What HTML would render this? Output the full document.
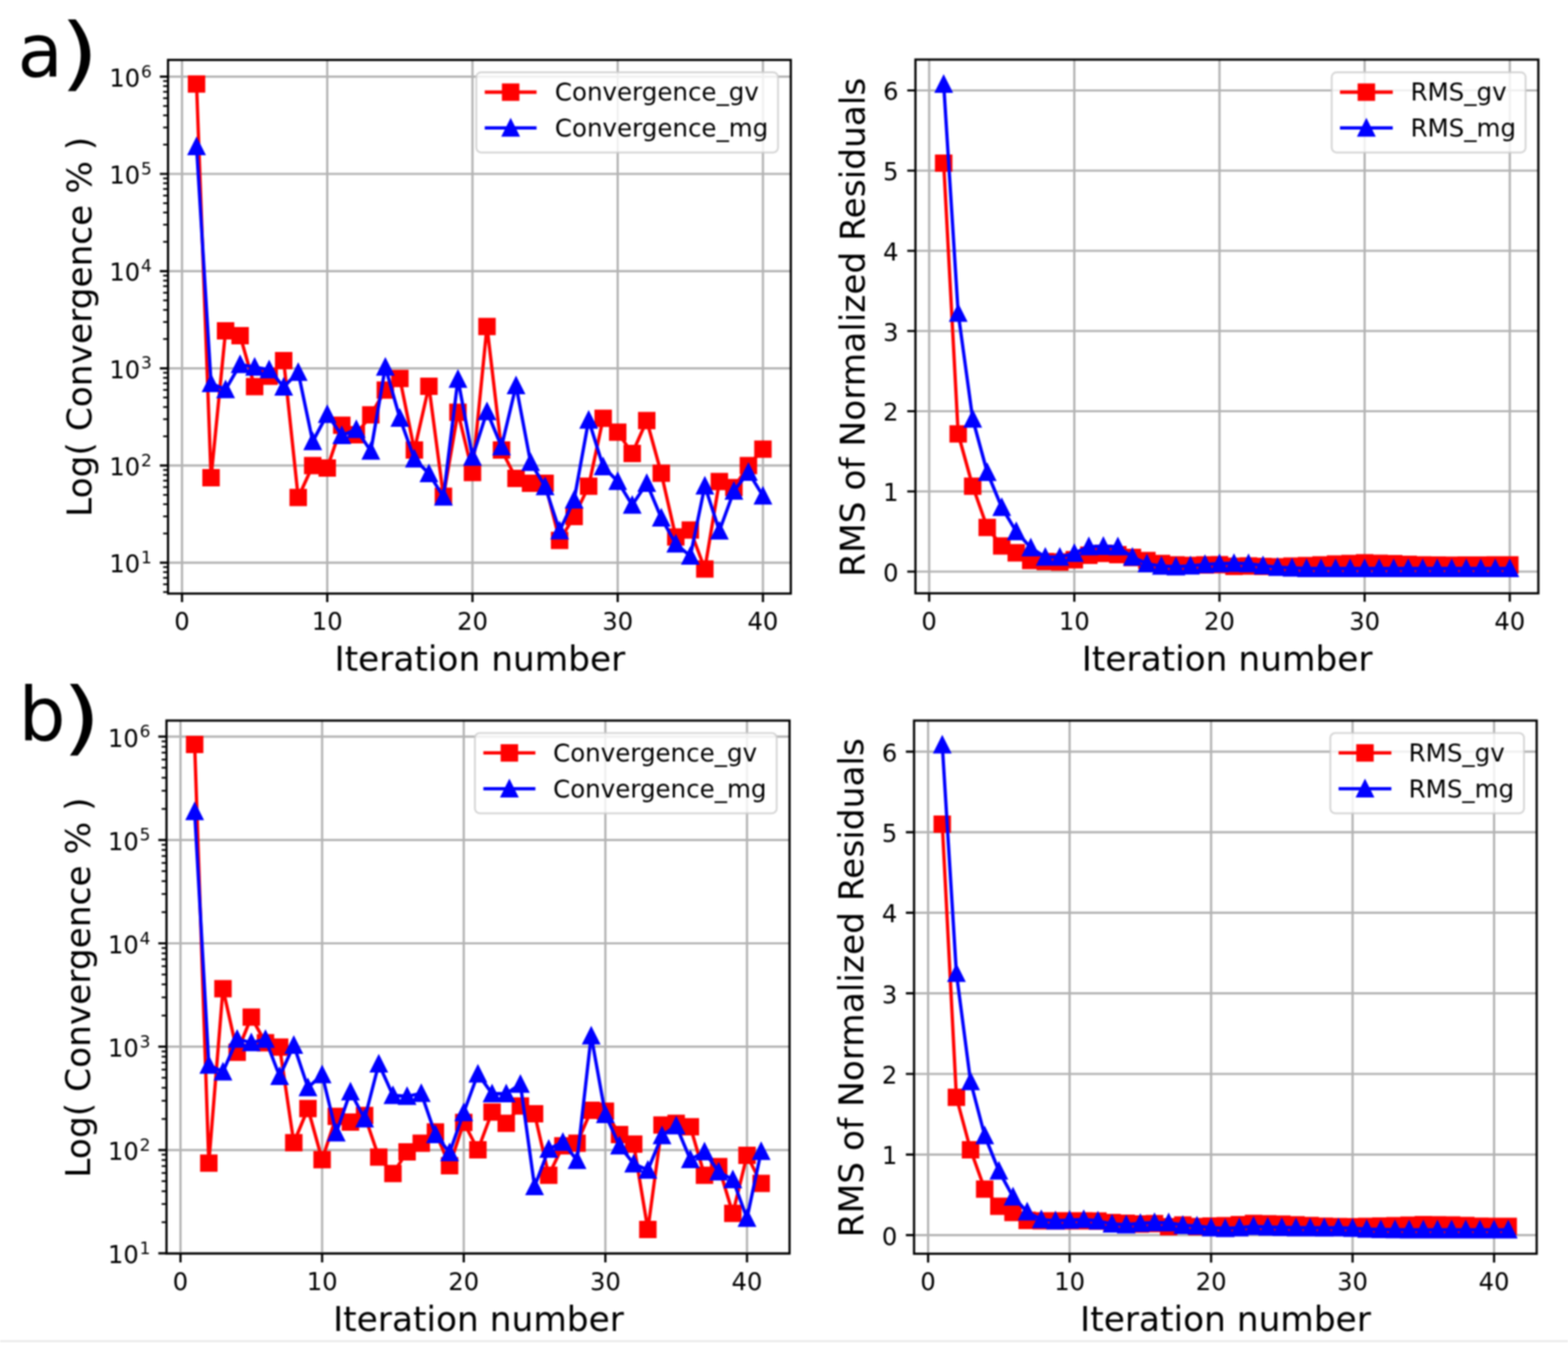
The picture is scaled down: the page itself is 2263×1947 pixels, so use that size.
<!DOCTYPE html>
<html lang="en">
<head>
<meta charset="utf-8">
<title>Convergence and RMS of normalized residuals</title>
<style>
html,body{margin:0;padding:0;background:#ffffff;}
body{width:2263px;height:1947px;overflow:hidden;}
svg{display:block;filter:blur(0.85px);}
</style>
</head>
<body>
<svg width="2263" height="1947" viewBox="0 0 2263 1947" font-family='"DejaVu Sans", "Liberation Sans", sans-serif' fill="#000000">
<defs>
<clipPath id="cA"><rect x="242.5" y="86.5" width="898.8" height="770.2"/></clipPath>
<clipPath id="cB"><rect x="240.3" y="1040" width="899.2" height="769.2"/></clipPath>
<clipPath id="cC"><rect x="1321.2" y="86" width="899" height="770.3"/></clipPath>
<clipPath id="cD"><rect x="1319.2" y="1040" width="898.6" height="769.5"/></clipPath>
</defs>
<rect x="0" y="0" width="2263" height="1947" fill="#ffffff"/>
<path d="M262.7 86.5V856.7M472.3 86.5V856.7M681.9 86.5V856.7M891.5 86.5V856.7M1101.1 86.5V856.7M242.5 110.7H1141.3M242.5 251H1141.3M242.5 391.3H1141.3M242.5 531.6H1141.3M242.5 671.9H1141.3M242.5 812.2H1141.3" stroke="#b3b3b3" stroke-width="3.2" fill="none"/>
<g clip-path="url(#cA)">
<polyline points="283.66,121.25 304.62,689.5 325.58,477.5 346.54,484.5 367.5,558 388.46,543 409.42,520.5 430.38,718 451.34,672 472.3,675.5 493.26,613.75 514.22,627.5 535.18,598.75 556.14,563 577.1,546.25 598.06,649.5 619.02,557.5 639.98,716.25 660.94,595 681.9,682 702.86,471.25 723.82,649.5 744.78,690.5 765.74,697.5 786.7,697.5 807.66,780 828.62,745.5 849.58,701.75 870.54,603.75 891.5,623.75 912.46,654.5 933.42,607 954.38,683 975.34,775 996.3,765 1017.26,821.25 1038.22,695 1059.18,703.75 1080.14,672 1101.1,648.25" fill="none" stroke="#ff0000" stroke-width="4.8" stroke-linejoin="round" stroke-linecap="square"/>
<path d="M271.06 108.65h25.2v25.2h-25.2zM292.02 676.9h25.2v25.2h-25.2zM312.98 464.9h25.2v25.2h-25.2zM333.94 471.9h25.2v25.2h-25.2zM354.9 545.4h25.2v25.2h-25.2zM375.86 530.4h25.2v25.2h-25.2zM396.82 507.9h25.2v25.2h-25.2zM417.78 705.4h25.2v25.2h-25.2zM438.74 659.4h25.2v25.2h-25.2zM459.7 662.9h25.2v25.2h-25.2zM480.66 601.15h25.2v25.2h-25.2zM501.62 614.9h25.2v25.2h-25.2zM522.58 586.15h25.2v25.2h-25.2zM543.54 550.4h25.2v25.2h-25.2zM564.5 533.65h25.2v25.2h-25.2zM585.46 636.9h25.2v25.2h-25.2zM606.42 544.9h25.2v25.2h-25.2zM627.38 703.65h25.2v25.2h-25.2zM648.34 582.4h25.2v25.2h-25.2zM669.3 669.4h25.2v25.2h-25.2zM690.26 458.65h25.2v25.2h-25.2zM711.22 636.9h25.2v25.2h-25.2zM732.18 677.9h25.2v25.2h-25.2zM753.14 684.9h25.2v25.2h-25.2zM774.1 684.9h25.2v25.2h-25.2zM795.06 767.4h25.2v25.2h-25.2zM816.02 732.9h25.2v25.2h-25.2zM836.98 689.15h25.2v25.2h-25.2zM857.94 591.15h25.2v25.2h-25.2zM878.9 611.15h25.2v25.2h-25.2zM899.86 641.9h25.2v25.2h-25.2zM920.82 594.4h25.2v25.2h-25.2zM941.78 670.4h25.2v25.2h-25.2zM962.74 762.4h25.2v25.2h-25.2zM983.7 752.4h25.2v25.2h-25.2zM1004.66 808.65h25.2v25.2h-25.2zM1025.62 682.4h25.2v25.2h-25.2zM1046.58 691.15h25.2v25.2h-25.2zM1067.54 659.4h25.2v25.2h-25.2zM1088.5 635.65h25.2v25.2h-25.2z" fill="#ff0000"/>
<polyline points="283.66,211.5 304.62,553.5 325.58,562.25 346.54,526 367.5,529.75 388.46,533.5 409.42,558.5 430.38,537.25 451.34,637.25 472.3,598 493.26,628.5 514.22,619.75 535.18,651 556.14,529.75 577.1,603.5 598.06,662.25 619.02,683.5 639.98,717.25 660.94,547.25 681.9,659.75 702.86,594 723.82,644.75 744.78,556.5 765.74,667.25 786.7,702.25 807.66,766 828.62,721.5 849.58,606.25 870.54,673.5 891.5,694.75 912.46,729 933.42,697.5 954.38,747.5 975.34,785 996.3,802.5 1017.26,701.25 1038.22,766.25 1059.18,708.75 1080.14,681.5 1101.1,715.75" fill="none" stroke="#0000ff" stroke-width="4.8" stroke-linejoin="round" stroke-linecap="square"/>
<path d="M283.66 196.9l13.6 27.2h-27.2zM304.62 538.9l13.6 27.2h-27.2zM325.58 547.65l13.6 27.2h-27.2zM346.54 511.4l13.6 27.2h-27.2zM367.5 515.15l13.6 27.2h-27.2zM388.46 518.9l13.6 27.2h-27.2zM409.42 543.9l13.6 27.2h-27.2zM430.38 522.65l13.6 27.2h-27.2zM451.34 622.65l13.6 27.2h-27.2zM472.3 583.4l13.6 27.2h-27.2zM493.26 613.9l13.6 27.2h-27.2zM514.22 605.15l13.6 27.2h-27.2zM535.18 636.4l13.6 27.2h-27.2zM556.14 515.15l13.6 27.2h-27.2zM577.1 588.9l13.6 27.2h-27.2zM598.06 647.65l13.6 27.2h-27.2zM619.02 668.9l13.6 27.2h-27.2zM639.98 702.65l13.6 27.2h-27.2zM660.94 532.65l13.6 27.2h-27.2zM681.9 645.15l13.6 27.2h-27.2zM702.86 579.4l13.6 27.2h-27.2zM723.82 630.15l13.6 27.2h-27.2zM744.78 541.9l13.6 27.2h-27.2zM765.74 652.65l13.6 27.2h-27.2zM786.7 687.65l13.6 27.2h-27.2zM807.66 751.4l13.6 27.2h-27.2zM828.62 706.9l13.6 27.2h-27.2zM849.58 591.65l13.6 27.2h-27.2zM870.54 658.9l13.6 27.2h-27.2zM891.5 680.15l13.6 27.2h-27.2zM912.46 714.4l13.6 27.2h-27.2zM933.42 682.9l13.6 27.2h-27.2zM954.38 732.9l13.6 27.2h-27.2zM975.34 770.4l13.6 27.2h-27.2zM996.3 787.9l13.6 27.2h-27.2zM1017.26 686.65l13.6 27.2h-27.2zM1038.22 751.65l13.6 27.2h-27.2zM1059.18 694.15l13.6 27.2h-27.2zM1080.14 666.9l13.6 27.2h-27.2zM1101.1 701.15l13.6 27.2h-27.2z" fill="#0000ff"/>
</g>
<path d="M262.7 856.7v12.3M472.3 856.7v12.3M681.9 856.7v12.3M891.5 856.7v12.3M1101.1 856.7v12.3M242.5 110.7h-11.8M242.5 251h-11.8M242.5 391.3h-11.8M242.5 531.6h-11.8M242.5 671.9h-11.8M242.5 812.2h-11.8" stroke="#000000" stroke-width="3.2" fill="none"/>
<path d="M242.5 854.43h-7M242.5 843.33h-7M242.5 833.93h-7M242.5 825.8h-7M242.5 818.62h-7M242.5 769.97h-7M242.5 745.26h-7M242.5 727.73h-7M242.5 714.13h-7M242.5 703.03h-7M242.5 693.63h-7M242.5 685.5h-7M242.5 678.32h-7M242.5 629.67h-7M242.5 604.96h-7M242.5 587.43h-7M242.5 573.83h-7M242.5 562.73h-7M242.5 553.33h-7M242.5 545.2h-7M242.5 538.02h-7M242.5 489.37h-7M242.5 464.66h-7M242.5 447.13h-7M242.5 433.53h-7M242.5 422.43h-7M242.5 413.03h-7M242.5 404.9h-7M242.5 397.72h-7M242.5 349.07h-7M242.5 324.36h-7M242.5 306.83h-7M242.5 293.23h-7M242.5 282.13h-7M242.5 272.73h-7M242.5 264.6h-7M242.5 257.42h-7M242.5 208.77h-7M242.5 184.06h-7M242.5 166.53h-7M242.5 152.93h-7M242.5 141.83h-7M242.5 132.43h-7M242.5 124.3h-7M242.5 117.12h-7" stroke="#000000" stroke-width="2.5" fill="none"/>
<rect x="242.5" y="86.5" width="898.8" height="770.2" fill="none" stroke="#000000" stroke-width="3.2"/>
<text x="262.7" y="908.6" font-size="35" text-anchor="middle">0</text>
<text x="472.3" y="908.6" font-size="35" text-anchor="middle">10</text>
<text x="681.9" y="908.6" font-size="35" text-anchor="middle">20</text>
<text x="891.5" y="908.6" font-size="35" text-anchor="middle">30</text>
<text x="1101.1" y="908.6" font-size="35" text-anchor="middle">40</text>
<text x="219" y="124.8" font-size="35" text-anchor="end">10<tspan font-size="24.5" dx="1.2" dy="-13.3">6</tspan></text>
<text x="219" y="265.1" font-size="35" text-anchor="end">10<tspan font-size="24.5" dx="1.2" dy="-13.3">5</tspan></text>
<text x="219" y="405.4" font-size="35" text-anchor="end">10<tspan font-size="24.5" dx="1.2" dy="-13.3">4</tspan></text>
<text x="219" y="545.7" font-size="35" text-anchor="end">10<tspan font-size="24.5" dx="1.2" dy="-13.3">3</tspan></text>
<text x="219" y="686" font-size="35" text-anchor="end">10<tspan font-size="24.5" dx="1.2" dy="-13.3">2</tspan></text>
<text x="219" y="826.3" font-size="35" text-anchor="end">10<tspan font-size="24.5" dx="1.2" dy="-13.3">1</tspan></text>
<text x="692.6" y="968" font-size="49.6" text-anchor="middle">Iteration number</text>
<text transform="translate(131.5 471.7) rotate(-90)" font-size="49.6" text-anchor="middle">Log( Convergence % )</text>
<rect x="687.4" y="104.3" width="435.5" height="115.8" rx="7" ry="7" fill="#ffffff" fill-opacity="0.8" stroke="#cccccc" stroke-opacity="0.8" stroke-width="2.7"/>
<line x1="702" y1="133" x2="772" y2="133" stroke="#ff0000" stroke-width="4.8" stroke-linecap="square"/>
<rect x="724.4" y="120.4" width="25.2" height="25.2" fill="#ff0000"/>
<text x="800.8" y="145" font-size="35.4">Convergence_gv</text>
<line x1="702" y1="184.7" x2="772" y2="184.7" stroke="#0000ff" stroke-width="4.8" stroke-linecap="square"/>
<path d="M737 170.1l13.6 27.2h-27.2z" fill="#0000ff"/>
<text x="800.8" y="197" font-size="35.4">Convergence_mg</text>
<path d="M260.5 1040V1809.2M464.9 1040V1809.2M669.3 1040V1809.2M873.7 1040V1809.2M1078.1 1040V1809.2M240.3 1063.2H1139.5M240.3 1212.35H1139.5M240.3 1361.5H1139.5M240.3 1510.65H1139.5M240.3 1659.8H1139.5M240.3 1808.95H1139.5" stroke="#b3b3b3" stroke-width="3.2" fill="none"/>
<g clip-path="url(#cB)">
<polyline points="280.94,1074.5 301.38,1678.75 321.82,1427 342.26,1518.75 362.7,1468 383.14,1505 403.58,1511.25 424.02,1649.25 444.46,1600 464.9,1673.75 485.34,1611.25 505.78,1619.5 526.22,1610 546.66,1670 567.1,1693.75 587.54,1662.5 607.98,1650 628.42,1633.75 648.86,1682.5 669.3,1620 689.74,1659.5 710.18,1605 730.62,1621.25 751.06,1596.25 771.5,1607.5 791.94,1696.25 812.38,1653.75 832.82,1650 853.26,1602.5 873.7,1603.75 894.14,1637.5 914.58,1651.25 935.02,1774.5 955.46,1623.75 975.9,1621.25 996.34,1626.25 1016.78,1696.25 1037.22,1683.75 1057.66,1751.25 1078.1,1667.5 1098.54,1708" fill="none" stroke="#ff0000" stroke-width="4.8" stroke-linejoin="round" stroke-linecap="square"/>
<path d="M268.34 1061.9h25.2v25.2h-25.2zM288.78 1666.15h25.2v25.2h-25.2zM309.22 1414.4h25.2v25.2h-25.2zM329.66 1506.15h25.2v25.2h-25.2zM350.1 1455.4h25.2v25.2h-25.2zM370.54 1492.4h25.2v25.2h-25.2zM390.98 1498.65h25.2v25.2h-25.2zM411.42 1636.65h25.2v25.2h-25.2zM431.86 1587.4h25.2v25.2h-25.2zM452.3 1661.15h25.2v25.2h-25.2zM472.74 1598.65h25.2v25.2h-25.2zM493.18 1606.9h25.2v25.2h-25.2zM513.62 1597.4h25.2v25.2h-25.2zM534.06 1657.4h25.2v25.2h-25.2zM554.5 1681.15h25.2v25.2h-25.2zM574.94 1649.9h25.2v25.2h-25.2zM595.38 1637.4h25.2v25.2h-25.2zM615.82 1621.15h25.2v25.2h-25.2zM636.26 1669.9h25.2v25.2h-25.2zM656.7 1607.4h25.2v25.2h-25.2zM677.14 1646.9h25.2v25.2h-25.2zM697.58 1592.4h25.2v25.2h-25.2zM718.02 1608.65h25.2v25.2h-25.2zM738.46 1583.65h25.2v25.2h-25.2zM758.9 1594.9h25.2v25.2h-25.2zM779.34 1683.65h25.2v25.2h-25.2zM799.78 1641.15h25.2v25.2h-25.2zM820.22 1637.4h25.2v25.2h-25.2zM840.66 1589.9h25.2v25.2h-25.2zM861.1 1591.15h25.2v25.2h-25.2zM881.54 1624.9h25.2v25.2h-25.2zM901.98 1638.65h25.2v25.2h-25.2zM922.42 1761.9h25.2v25.2h-25.2zM942.86 1611.15h25.2v25.2h-25.2zM963.3 1608.65h25.2v25.2h-25.2zM983.74 1613.65h25.2v25.2h-25.2zM1004.18 1683.65h25.2v25.2h-25.2zM1024.62 1671.15h25.2v25.2h-25.2zM1045.06 1738.65h25.2v25.2h-25.2zM1065.5 1654.9h25.2v25.2h-25.2zM1085.94 1695.4h25.2v25.2h-25.2z" fill="#ff0000"/>
<polyline points="280.94,1171.25 301.38,1537.25 321.82,1547 342.26,1499.75 362.7,1504.75 383.14,1500 403.58,1553.5 424.02,1508.5 444.46,1569.75 464.9,1551 485.34,1635 505.78,1575.75 526.22,1614.75 546.66,1535.5 567.1,1581 587.54,1582.25 607.98,1578 628.42,1637.5 648.86,1663.5 669.3,1605.75 689.74,1550 710.18,1578.5 730.62,1578.5 751.06,1564.75 771.5,1712.5 791.94,1658.5 812.38,1648.5 832.82,1674.75 853.26,1495 873.7,1608.5 894.14,1653.75 914.58,1679.75 935.02,1688.75 955.46,1639 975.9,1624.75 996.34,1673.5 1016.78,1662.25 1037.22,1691.25 1057.66,1702.5 1078.1,1758.25 1098.54,1661.75" fill="none" stroke="#0000ff" stroke-width="4.8" stroke-linejoin="round" stroke-linecap="square"/>
<path d="M280.94 1156.65l13.6 27.2h-27.2zM301.38 1522.65l13.6 27.2h-27.2zM321.82 1532.4l13.6 27.2h-27.2zM342.26 1485.15l13.6 27.2h-27.2zM362.7 1490.15l13.6 27.2h-27.2zM383.14 1485.4l13.6 27.2h-27.2zM403.58 1538.9l13.6 27.2h-27.2zM424.02 1493.9l13.6 27.2h-27.2zM444.46 1555.15l13.6 27.2h-27.2zM464.9 1536.4l13.6 27.2h-27.2zM485.34 1620.4l13.6 27.2h-27.2zM505.78 1561.15l13.6 27.2h-27.2zM526.22 1600.15l13.6 27.2h-27.2zM546.66 1520.9l13.6 27.2h-27.2zM567.1 1566.4l13.6 27.2h-27.2zM587.54 1567.65l13.6 27.2h-27.2zM607.98 1563.4l13.6 27.2h-27.2zM628.42 1622.9l13.6 27.2h-27.2zM648.86 1648.9l13.6 27.2h-27.2zM669.3 1591.15l13.6 27.2h-27.2zM689.74 1535.4l13.6 27.2h-27.2zM710.18 1563.9l13.6 27.2h-27.2zM730.62 1563.9l13.6 27.2h-27.2zM751.06 1550.15l13.6 27.2h-27.2zM771.5 1697.9l13.6 27.2h-27.2zM791.94 1643.9l13.6 27.2h-27.2zM812.38 1633.9l13.6 27.2h-27.2zM832.82 1660.15l13.6 27.2h-27.2zM853.26 1480.4l13.6 27.2h-27.2zM873.7 1593.9l13.6 27.2h-27.2zM894.14 1639.15l13.6 27.2h-27.2zM914.58 1665.15l13.6 27.2h-27.2zM935.02 1674.15l13.6 27.2h-27.2zM955.46 1624.4l13.6 27.2h-27.2zM975.9 1610.15l13.6 27.2h-27.2zM996.34 1658.9l13.6 27.2h-27.2zM1016.78 1647.65l13.6 27.2h-27.2zM1037.22 1676.65l13.6 27.2h-27.2zM1057.66 1687.9l13.6 27.2h-27.2zM1078.1 1743.65l13.6 27.2h-27.2zM1098.54 1647.15l13.6 27.2h-27.2z" fill="#0000ff"/>
</g>
<path d="M260.5 1809.2v12.8M464.9 1809.2v12.8M669.3 1809.2v12.8M873.7 1809.2v12.8M1078.1 1809.2v12.8M240.3 1063.2h-11.8M240.3 1212.35h-11.8M240.3 1361.5h-11.8M240.3 1510.65h-11.8M240.3 1659.8h-11.8M240.3 1808.95h-11.8" stroke="#000000" stroke-width="3.2" fill="none"/>
<path d="M240.3 1764.05h-7M240.3 1737.79h-7M240.3 1719.15h-7M240.3 1704.7h-7M240.3 1692.89h-7M240.3 1682.9h-7M240.3 1674.25h-7M240.3 1666.62h-7M240.3 1614.9h-7M240.3 1588.64h-7M240.3 1570h-7M240.3 1555.55h-7M240.3 1543.74h-7M240.3 1533.75h-7M240.3 1525.1h-7M240.3 1517.47h-7M240.3 1465.75h-7M240.3 1439.49h-7M240.3 1420.85h-7M240.3 1406.4h-7M240.3 1394.59h-7M240.3 1384.6h-7M240.3 1375.95h-7M240.3 1368.32h-7M240.3 1316.6h-7M240.3 1290.34h-7M240.3 1271.7h-7M240.3 1257.25h-7M240.3 1245.44h-7M240.3 1235.45h-7M240.3 1226.8h-7M240.3 1219.17h-7M240.3 1167.45h-7M240.3 1141.19h-7M240.3 1122.55h-7M240.3 1108.1h-7M240.3 1096.29h-7M240.3 1086.3h-7M240.3 1077.65h-7M240.3 1070.02h-7" stroke="#000000" stroke-width="2.5" fill="none"/>
<rect x="240.3" y="1040" width="899.2" height="769.2" fill="none" stroke="#000000" stroke-width="3.2"/>
<text x="260.5" y="1861.6" font-size="35" text-anchor="middle">0</text>
<text x="464.9" y="1861.6" font-size="35" text-anchor="middle">10</text>
<text x="669.3" y="1861.6" font-size="35" text-anchor="middle">20</text>
<text x="873.7" y="1861.6" font-size="35" text-anchor="middle">30</text>
<text x="1078.1" y="1861.6" font-size="35" text-anchor="middle">40</text>
<text x="217" y="1077.5" font-size="35" text-anchor="end">10<tspan font-size="24.5" dx="1.2" dy="-13.3">6</tspan></text>
<text x="217" y="1226.65" font-size="35" text-anchor="end">10<tspan font-size="24.5" dx="1.2" dy="-13.3">5</tspan></text>
<text x="217" y="1375.8" font-size="35" text-anchor="end">10<tspan font-size="24.5" dx="1.2" dy="-13.3">4</tspan></text>
<text x="217" y="1524.95" font-size="35" text-anchor="end">10<tspan font-size="24.5" dx="1.2" dy="-13.3">3</tspan></text>
<text x="217" y="1674.1" font-size="35" text-anchor="end">10<tspan font-size="24.5" dx="1.2" dy="-13.3">2</tspan></text>
<text x="217" y="1823.25" font-size="35" text-anchor="end">10<tspan font-size="24.5" dx="1.2" dy="-13.3">1</tspan></text>
<text x="690.5" y="1920.5" font-size="49.6" text-anchor="middle">Iteration number</text>
<text transform="translate(129.5 1425.3) rotate(-90)" font-size="49.6" text-anchor="middle">Log( Convergence % )</text>
<rect x="685.4" y="1058" width="435.6" height="115.8" rx="7" ry="7" fill="#ffffff" fill-opacity="0.8" stroke="#cccccc" stroke-opacity="0.8" stroke-width="2.7"/>
<line x1="700" y1="1086.7" x2="770.3" y2="1086.7" stroke="#ff0000" stroke-width="4.8" stroke-linecap="square"/>
<rect x="722.55" y="1074.1" width="25.2" height="25.2" fill="#ff0000"/>
<text x="798.2" y="1098.7" font-size="35.4">Convergence_gv</text>
<line x1="700" y1="1138.4" x2="770.3" y2="1138.4" stroke="#0000ff" stroke-width="4.8" stroke-linecap="square"/>
<path d="M735.15 1123.8l13.6 27.2h-27.2z" fill="#0000ff"/>
<text x="798.2" y="1150.7" font-size="35.4">Convergence_mg</text>
<path d="M1341 86V856.3M1550.5 86V856.3M1760 86V856.3M1969.5 86V856.3M2179 86V856.3M1321.2 825H2220.2M1321.2 709.25H2220.2M1321.2 593.5H2220.2M1321.2 477.75H2220.2M1321.2 362H2220.2M1321.2 246.25H2220.2M1321.2 130.5H2220.2" stroke="#b3b3b3" stroke-width="3.2" fill="none"/>
<g clip-path="url(#cC)">
<polyline points="1361.95,235.5 1382.9,626.25 1403.85,701.75 1424.8,761.25 1445.75,788 1466.7,797.8 1487.65,808.8 1508.6,810.5 1529.55,811.2 1550.5,807.8 1571.45,801.3 1592.4,798.7 1613.35,800.5 1634.3,804.6 1655.25,809 1676.2,813.3 1697.15,815.4 1718.1,816 1739.05,815.4 1760,815 1780.95,817.3 1801.9,816.9 1822.85,817.5 1843.8,818 1864.75,817.2 1885.7,816.4 1906.65,815.3 1927.6,814.2 1948.55,813.3 1969.5,812.4 1990.45,813 2011.4,813.6 2032.35,814.5 2053.3,815.3 2074.25,815.6 2095.2,815.8 2116.15,815.6 2137.1,815.5 2158.05,815.4 2179,815.3" fill="none" stroke="#ff0000" stroke-width="4.8" stroke-linejoin="round" stroke-linecap="square"/>
<path d="M1349.35 222.9h25.2v25.2h-25.2zM1370.3 613.65h25.2v25.2h-25.2zM1391.25 689.15h25.2v25.2h-25.2zM1412.2 748.65h25.2v25.2h-25.2zM1433.15 775.4h25.2v25.2h-25.2zM1454.1 785.2h25.2v25.2h-25.2zM1475.05 796.2h25.2v25.2h-25.2zM1496 797.9h25.2v25.2h-25.2zM1516.95 798.6h25.2v25.2h-25.2zM1537.9 795.2h25.2v25.2h-25.2zM1558.85 788.7h25.2v25.2h-25.2zM1579.8 786.1h25.2v25.2h-25.2zM1600.75 787.9h25.2v25.2h-25.2zM1621.7 792h25.2v25.2h-25.2zM1642.65 796.4h25.2v25.2h-25.2zM1663.6 800.7h25.2v25.2h-25.2zM1684.55 802.8h25.2v25.2h-25.2zM1705.5 803.4h25.2v25.2h-25.2zM1726.45 802.8h25.2v25.2h-25.2zM1747.4 802.4h25.2v25.2h-25.2zM1768.35 804.7h25.2v25.2h-25.2zM1789.3 804.3h25.2v25.2h-25.2zM1810.25 804.9h25.2v25.2h-25.2zM1831.2 805.4h25.2v25.2h-25.2zM1852.15 804.6h25.2v25.2h-25.2zM1873.1 803.8h25.2v25.2h-25.2zM1894.05 802.7h25.2v25.2h-25.2zM1915 801.6h25.2v25.2h-25.2zM1935.95 800.7h25.2v25.2h-25.2zM1956.9 799.8h25.2v25.2h-25.2zM1977.85 800.4h25.2v25.2h-25.2zM1998.8 801h25.2v25.2h-25.2zM2019.75 801.9h25.2v25.2h-25.2zM2040.7 802.7h25.2v25.2h-25.2zM2061.65 803h25.2v25.2h-25.2zM2082.6 803.2h25.2v25.2h-25.2zM2103.55 803h25.2v25.2h-25.2zM2124.5 802.9h25.2v25.2h-25.2zM2145.45 802.8h25.2v25.2h-25.2zM2166.4 802.7h25.2v25.2h-25.2z" fill="#ff0000"/>
<polyline points="1361.95,121.5 1382.9,452 1403.85,604.75 1424.8,681.75 1445.75,732.25 1466.7,767.2 1487.65,790.5 1508.6,804 1529.55,804 1550.5,798.5 1571.45,788.8 1592.4,788.3 1613.35,789 1634.3,804 1655.25,813.5 1676.2,817 1697.15,817.8 1718.1,816.6 1739.05,814.7 1760,813.5 1780.95,813 1801.9,813.4 1822.85,816.3 1843.8,818.6 1864.75,819.7 1885.7,820.3 1906.65,820.5 1927.6,820.5 1948.55,820.5 1969.5,820.5 1990.45,820.5 2011.4,820.5 2032.35,820.5 2053.3,820.5 2074.25,820.5 2095.2,820.5 2116.15,820.5 2137.1,820.5 2158.05,820.5 2179,820.5" fill="none" stroke="#0000ff" stroke-width="4.8" stroke-linejoin="round" stroke-linecap="square"/>
<path d="M1361.95 106.9l13.6 27.2h-27.2zM1382.9 437.4l13.6 27.2h-27.2zM1403.85 590.15l13.6 27.2h-27.2zM1424.8 667.15l13.6 27.2h-27.2zM1445.75 717.65l13.6 27.2h-27.2zM1466.7 752.6l13.6 27.2h-27.2zM1487.65 775.9l13.6 27.2h-27.2zM1508.6 789.4l13.6 27.2h-27.2zM1529.55 789.4l13.6 27.2h-27.2zM1550.5 783.9l13.6 27.2h-27.2zM1571.45 774.2l13.6 27.2h-27.2zM1592.4 773.7l13.6 27.2h-27.2zM1613.35 774.4l13.6 27.2h-27.2zM1634.3 789.4l13.6 27.2h-27.2zM1655.25 798.9l13.6 27.2h-27.2zM1676.2 802.4l13.6 27.2h-27.2zM1697.15 803.2l13.6 27.2h-27.2zM1718.1 802l13.6 27.2h-27.2zM1739.05 800.1l13.6 27.2h-27.2zM1760 798.9l13.6 27.2h-27.2zM1780.95 798.4l13.6 27.2h-27.2zM1801.9 798.8l13.6 27.2h-27.2zM1822.85 801.7l13.6 27.2h-27.2zM1843.8 804l13.6 27.2h-27.2zM1864.75 805.1l13.6 27.2h-27.2zM1885.7 805.7l13.6 27.2h-27.2zM1906.65 805.9l13.6 27.2h-27.2zM1927.6 805.9l13.6 27.2h-27.2zM1948.55 805.9l13.6 27.2h-27.2zM1969.5 805.9l13.6 27.2h-27.2zM1990.45 805.9l13.6 27.2h-27.2zM2011.4 805.9l13.6 27.2h-27.2zM2032.35 805.9l13.6 27.2h-27.2zM2053.3 805.9l13.6 27.2h-27.2zM2074.25 805.9l13.6 27.2h-27.2zM2095.2 805.9l13.6 27.2h-27.2zM2116.15 805.9l13.6 27.2h-27.2zM2137.1 805.9l13.6 27.2h-27.2zM2158.05 805.9l13.6 27.2h-27.2zM2179 805.9l13.6 27.2h-27.2z" fill="#0000ff"/>
</g>
<path d="M1341 856.3v12.3M1550.5 856.3v12.3M1760 856.3v12.3M1969.5 856.3v12.3M2179 856.3v12.3M1321.2 825h-11.8M1321.2 709.25h-11.8M1321.2 593.5h-11.8M1321.2 477.75h-11.8M1321.2 362h-11.8M1321.2 246.25h-11.8M1321.2 130.5h-11.8" stroke="#000000" stroke-width="3.2" fill="none"/>
<rect x="1321.2" y="86" width="899" height="770.3" fill="none" stroke="#000000" stroke-width="3.2"/>
<text x="1341" y="908.6" font-size="35" text-anchor="middle">0</text>
<text x="1550.5" y="908.6" font-size="35" text-anchor="middle">10</text>
<text x="1760" y="908.6" font-size="35" text-anchor="middle">20</text>
<text x="1969.5" y="908.6" font-size="35" text-anchor="middle">30</text>
<text x="2179" y="908.6" font-size="35" text-anchor="middle">40</text>
<text x="1296.8" y="838.9" font-size="35" text-anchor="end">0</text>
<text x="1296.8" y="723.15" font-size="35" text-anchor="end">1</text>
<text x="1296.8" y="607.4" font-size="35" text-anchor="end">2</text>
<text x="1296.8" y="491.65" font-size="35" text-anchor="end">3</text>
<text x="1296.8" y="375.9" font-size="35" text-anchor="end">4</text>
<text x="1296.8" y="260.15" font-size="35" text-anchor="end">5</text>
<text x="1296.8" y="144.4" font-size="35" text-anchor="end">6</text>
<text x="1771" y="968" font-size="49.6" text-anchor="middle">Iteration number</text>
<text transform="translate(1248 472.3) rotate(-90)" font-size="49.6" text-anchor="middle">RMS of Normalized Residuals</text>
<rect x="1922" y="104.3" width="279.8" height="115.8" rx="7" ry="7" fill="#ffffff" fill-opacity="0.8" stroke="#cccccc" stroke-opacity="0.8" stroke-width="2.7"/>
<line x1="1936.3" y1="133" x2="2007.7" y2="133" stroke="#ff0000" stroke-width="4.8" stroke-linecap="square"/>
<rect x="1959.4" y="120.4" width="25.2" height="25.2" fill="#ff0000"/>
<text x="2035.7" y="145" font-size="35.4">RMS_gv</text>
<line x1="1936.3" y1="184.7" x2="2007.7" y2="184.7" stroke="#0000ff" stroke-width="4.8" stroke-linecap="square"/>
<path d="M1972 170.1l13.6 27.2h-27.2z" fill="#0000ff"/>
<text x="2035.7" y="197" font-size="35.4">RMS_mg</text>
<path d="M1339.5 1040V1809.5M1543.7 1040V1809.5M1747.9 1040V1809.5M1952.1 1040V1809.5M2156.3 1040V1809.5M1319.2 1782.6H2217.8M1319.2 1666.3H2217.8M1319.2 1550H2217.8M1319.2 1433.7H2217.8M1319.2 1317.4H2217.8M1319.2 1201.1H2217.8M1319.2 1084.8H2217.8" stroke="#b3b3b3" stroke-width="3.2" fill="none"/>
<g clip-path="url(#cD)">
<polyline points="1359.92,1189.5 1380.34,1583.75 1400.76,1659.5 1421.18,1716.25 1441.6,1741 1462.02,1749.8 1482.44,1761.3 1502.86,1762 1523.28,1762 1543.7,1762 1564.12,1762 1584.54,1762.3 1604.96,1764.6 1625.38,1765.5 1645.8,1766.7 1666.22,1766 1686.64,1770.5 1707.06,1768 1727.48,1770.4 1747.9,1769.5 1768.32,1769 1788.74,1767.7 1809.16,1765.8 1829.58,1766.3 1850,1766.9 1870.42,1767.8 1890.84,1768.8 1911.26,1769.8 1931.68,1770.3 1952.1,1770.7 1972.52,1770.2 1992.94,1769.6 2013.36,1769.1 2033.78,1768.3 2054.2,1767.6 2074.62,1767.8 2095.04,1768 2115.46,1768.9 2135.88,1769.8 2156.3,1770 2176.72,1770.2" fill="none" stroke="#ff0000" stroke-width="4.8" stroke-linejoin="round" stroke-linecap="square"/>
<path d="M1347.32 1176.9h25.2v25.2h-25.2zM1367.74 1571.15h25.2v25.2h-25.2zM1388.16 1646.9h25.2v25.2h-25.2zM1408.58 1703.65h25.2v25.2h-25.2zM1429 1728.4h25.2v25.2h-25.2zM1449.42 1737.2h25.2v25.2h-25.2zM1469.84 1748.7h25.2v25.2h-25.2zM1490.26 1749.4h25.2v25.2h-25.2zM1510.68 1749.4h25.2v25.2h-25.2zM1531.1 1749.4h25.2v25.2h-25.2zM1551.52 1749.4h25.2v25.2h-25.2zM1571.94 1749.7h25.2v25.2h-25.2zM1592.36 1752h25.2v25.2h-25.2zM1612.78 1752.9h25.2v25.2h-25.2zM1633.2 1754.1h25.2v25.2h-25.2zM1653.62 1753.4h25.2v25.2h-25.2zM1674.04 1757.9h25.2v25.2h-25.2zM1694.46 1755.4h25.2v25.2h-25.2zM1714.88 1757.8h25.2v25.2h-25.2zM1735.3 1756.9h25.2v25.2h-25.2zM1755.72 1756.4h25.2v25.2h-25.2zM1776.14 1755.1h25.2v25.2h-25.2zM1796.56 1753.2h25.2v25.2h-25.2zM1816.98 1753.7h25.2v25.2h-25.2zM1837.4 1754.3h25.2v25.2h-25.2zM1857.82 1755.2h25.2v25.2h-25.2zM1878.24 1756.2h25.2v25.2h-25.2zM1898.66 1757.2h25.2v25.2h-25.2zM1919.08 1757.7h25.2v25.2h-25.2zM1939.5 1758.1h25.2v25.2h-25.2zM1959.92 1757.6h25.2v25.2h-25.2zM1980.34 1757h25.2v25.2h-25.2zM2000.76 1756.5h25.2v25.2h-25.2zM2021.18 1755.7h25.2v25.2h-25.2zM2041.6 1755h25.2v25.2h-25.2zM2062.02 1755.2h25.2v25.2h-25.2zM2082.44 1755.4h25.2v25.2h-25.2zM2102.86 1756.3h25.2v25.2h-25.2zM2123.28 1757.2h25.2v25.2h-25.2zM2143.7 1757.4h25.2v25.2h-25.2zM2164.12 1757.6h25.2v25.2h-25.2z" fill="#ff0000"/>
<polyline points="1359.92,1075 1380.34,1404.75 1400.76,1561 1421.18,1639 1441.6,1690 1462.02,1727.4 1482.44,1749 1502.86,1760.2 1523.28,1761.8 1543.7,1761 1564.12,1760 1584.54,1762 1604.96,1766.5 1625.38,1767.7 1645.8,1765.5 1666.22,1764.4 1686.64,1764.6 1707.06,1768.4 1727.48,1769.3 1747.9,1771.9 1768.32,1773 1788.74,1771.9 1809.16,1769.8 1829.58,1771 1850,1771.5 1870.42,1771.8 1890.84,1772 1911.26,1772.2 1931.68,1772 1952.1,1772.7 1972.52,1774 1992.94,1774.5 2013.36,1774.7 2033.78,1774.8 2054.2,1774.8 2074.62,1774.8 2095.04,1774.8 2115.46,1774.8 2135.88,1774.8 2156.3,1774.8 2176.72,1774.8" fill="none" stroke="#0000ff" stroke-width="4.8" stroke-linejoin="round" stroke-linecap="square"/>
<path d="M1359.92 1060.4l13.6 27.2h-27.2zM1380.34 1390.15l13.6 27.2h-27.2zM1400.76 1546.4l13.6 27.2h-27.2zM1421.18 1624.4l13.6 27.2h-27.2zM1441.6 1675.4l13.6 27.2h-27.2zM1462.02 1712.8l13.6 27.2h-27.2zM1482.44 1734.4l13.6 27.2h-27.2zM1502.86 1745.6l13.6 27.2h-27.2zM1523.28 1747.2l13.6 27.2h-27.2zM1543.7 1746.4l13.6 27.2h-27.2zM1564.12 1745.4l13.6 27.2h-27.2zM1584.54 1747.4l13.6 27.2h-27.2zM1604.96 1751.9l13.6 27.2h-27.2zM1625.38 1753.1l13.6 27.2h-27.2zM1645.8 1750.9l13.6 27.2h-27.2zM1666.22 1749.8l13.6 27.2h-27.2zM1686.64 1750l13.6 27.2h-27.2zM1707.06 1753.8l13.6 27.2h-27.2zM1727.48 1754.7l13.6 27.2h-27.2zM1747.9 1757.3l13.6 27.2h-27.2zM1768.32 1758.4l13.6 27.2h-27.2zM1788.74 1757.3l13.6 27.2h-27.2zM1809.16 1755.2l13.6 27.2h-27.2zM1829.58 1756.4l13.6 27.2h-27.2zM1850 1756.9l13.6 27.2h-27.2zM1870.42 1757.2l13.6 27.2h-27.2zM1890.84 1757.4l13.6 27.2h-27.2zM1911.26 1757.6l13.6 27.2h-27.2zM1931.68 1757.4l13.6 27.2h-27.2zM1952.1 1758.1l13.6 27.2h-27.2zM1972.52 1759.4l13.6 27.2h-27.2zM1992.94 1759.9l13.6 27.2h-27.2zM2013.36 1760.1l13.6 27.2h-27.2zM2033.78 1760.2l13.6 27.2h-27.2zM2054.2 1760.2l13.6 27.2h-27.2zM2074.62 1760.2l13.6 27.2h-27.2zM2095.04 1760.2l13.6 27.2h-27.2zM2115.46 1760.2l13.6 27.2h-27.2zM2135.88 1760.2l13.6 27.2h-27.2zM2156.3 1760.2l13.6 27.2h-27.2zM2176.72 1760.2l13.6 27.2h-27.2z" fill="#0000ff"/>
</g>
<path d="M1339.5 1809.5v12.8M1543.7 1809.5v12.8M1747.9 1809.5v12.8M1952.1 1809.5v12.8M2156.3 1809.5v12.8M1319.2 1782.6h-11.8M1319.2 1666.3h-11.8M1319.2 1550h-11.8M1319.2 1433.7h-11.8M1319.2 1317.4h-11.8M1319.2 1201.1h-11.8M1319.2 1084.8h-11.8" stroke="#000000" stroke-width="3.2" fill="none"/>
<rect x="1319.2" y="1040" width="898.6" height="769.5" fill="none" stroke="#000000" stroke-width="3.2"/>
<text x="1339.5" y="1861.6" font-size="35" text-anchor="middle">0</text>
<text x="1543.7" y="1861.6" font-size="35" text-anchor="middle">10</text>
<text x="1747.9" y="1861.6" font-size="35" text-anchor="middle">20</text>
<text x="1952.1" y="1861.6" font-size="35" text-anchor="middle">30</text>
<text x="2156.3" y="1861.6" font-size="35" text-anchor="middle">40</text>
<text x="1295" y="1796.5" font-size="35" text-anchor="end">0</text>
<text x="1295" y="1680.2" font-size="35" text-anchor="end">1</text>
<text x="1295" y="1563.9" font-size="35" text-anchor="end">2</text>
<text x="1295" y="1447.6" font-size="35" text-anchor="end">3</text>
<text x="1295" y="1331.3" font-size="35" text-anchor="end">4</text>
<text x="1295" y="1215" font-size="35" text-anchor="end">5</text>
<text x="1295" y="1098.7" font-size="35" text-anchor="end">6</text>
<text x="1768.7" y="1920.5" font-size="49.6" text-anchor="middle">Iteration number</text>
<text transform="translate(1246 1425.5) rotate(-90)" font-size="49.6" text-anchor="middle">RMS of Normalized Residuals</text>
<rect x="1920" y="1058" width="279.5" height="115.8" rx="7" ry="7" fill="#ffffff" fill-opacity="0.8" stroke="#cccccc" stroke-opacity="0.8" stroke-width="2.7"/>
<line x1="1934.3" y1="1086.7" x2="2005.7" y2="1086.7" stroke="#ff0000" stroke-width="4.8" stroke-linecap="square"/>
<rect x="1957.4" y="1074.1" width="25.2" height="25.2" fill="#ff0000"/>
<text x="2033" y="1098.7" font-size="35.4">RMS_gv</text>
<line x1="1934.3" y1="1138.4" x2="2005.7" y2="1138.4" stroke="#0000ff" stroke-width="4.8" stroke-linecap="square"/>
<path d="M1970 1123.8l13.6 27.2h-27.2z" fill="#0000ff"/>
<text x="2033" y="1150.7" font-size="35.4">RMS_mg</text>
<text x="25.3" y="110.4" font-size="107">a<tspan x="86.3" dy="6" font-size="116" textLength="56.6" lengthAdjust="spacingAndGlyphs">)</tspan></text>
<text x="26.8" y="1067.9" font-size="107">b<tspan x="89.2" dy="6.6" font-size="116" textLength="56.6" lengthAdjust="spacingAndGlyphs">)</tspan></text>
<rect x="0" y="1934.4" width="2263" height="2.6" fill="#e8e8e8"/>
</svg>
</body>
</html>
